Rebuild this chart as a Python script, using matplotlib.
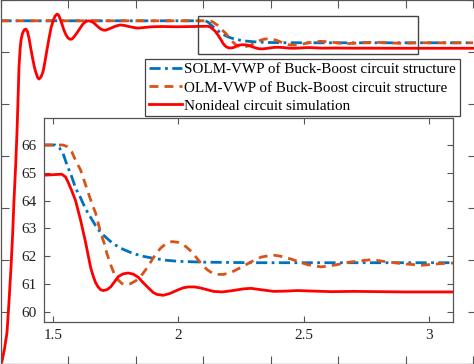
import matplotlib
matplotlib.use("Agg")
import matplotlib.pyplot as plt
from matplotlib.patches import Rectangle

plt.rcParams["font.family"] = ["Liberation Serif", "DejaVu Serif"]

# values (time, voltage)
solm_t = [0, 1.50, 1.51, 1.525, 1.54, 1.555, 1.575, 1.59, 1.61, 1.63, 1.65, 1.67,
          1.69, 1.715, 1.74, 1.78, 1.82, 1.86, 1.90, 1.95, 2.00, 2.10, 2.30, 3.50]
solm_v = [66, 66, 66.0, 65.9, 65.7, 65.3, 64.85, 64.45, 64.1, 63.7, 63.4, 63.1,
          62.85, 62.65, 62.45, 62.25, 62.1, 62.0, 61.93, 61.86, 61.82, 61.79, 61.77, 61.77]

olm_t = [0, 1.50, 1.54, 1.555, 1.575, 1.59, 1.61, 1.625, 1.64, 1.655, 1.67, 1.69,
         1.705, 1.715, 1.73, 1.745, 1.76, 1.775, 1.79, 1.81, 1.83, 1.85, 1.87, 1.89,
         1.91, 1.93, 1.95, 1.975, 2.00, 2.03, 2.055, 2.075, 2.095, 2.115, 2.135, 2.155,
         2.18, 2.21, 2.25, 2.29, 2.33, 2.375, 2.41, 2.45, 2.515, 2.57, 2.62, 2.69,
         2.77, 2.835, 2.90, 2.97, 3.05, 3.12, 3.50]
olm_v = [66, 66, 66.0, 65.95, 65.75, 65.45, 65.1, 64.7, 64.3, 63.9, 63.55, 62.85,
         62.45, 62.1, 61.7, 61.35, 61.15, 61.02, 60.98, 61.02, 61.12, 61.28, 61.52, 61.8,
         62.08, 62.3, 62.45, 62.53, 62.5, 62.35, 62.15, 61.92, 61.7, 61.52, 61.4, 61.35,
         61.35, 61.42, 61.6, 61.8, 61.97, 62.05, 62.0, 61.9, 61.7, 61.62, 61.68, 61.8,
         61.88, 61.8, 61.73, 61.68, 61.74, 61.77, 61.77]

sim_t = [0, 0.011, 0.03, 0.048, 0.063, 0.078, 0.09, 0.10, 0.112, 0.122, 0.13, 0.137,
         0.145, 0.152, 0.162, 0.17, 0.18, 0.189, 0.20, 0.211, 0.225, 0.24, 0.252, 0.263,
         0.275, 0.285, 0.30, 0.315, 0.33, 0.344, 0.36, 0.374, 0.39, 0.404, 0.419, 0.43,
         0.44, 0.455, 0.47, 0.485, 0.50, 0.515, 0.53, 0.547, 0.567, 0.59, 0.611, 0.635,
         0.656, 0.68, 0.70, 0.72, 0.744, 0.765, 0.78, 0.81, 0.85, 0.885, 0.92, 0.96,
         1.00, 1.02, 1.06, 1.12, 1.20, 1.30, 1.43, 1.535, 1.55, 1.56, 1.575, 1.59,
         1.60, 1.61, 1.62, 1.63, 1.64, 1.65, 1.66, 1.67, 1.68, 1.69, 1.70, 1.715,
         1.73, 1.745, 1.76, 1.78, 1.80, 1.82, 1.84, 1.86, 1.88, 1.90, 1.915, 1.94,
         1.965, 1.995, 2.02, 2.04, 2.065, 2.09, 2.115, 2.14, 2.175, 2.21, 2.26, 2.29,
         2.33, 2.38, 2.43, 2.475, 2.54, 2.61, 2.70, 2.80, 2.90, 3.12, 3.50]
sim_v = [0, 0.5, 3, 6, 12, 18.7, 25, 31.5, 38, 44.4, 51, 57.1,
         60.5, 62.3, 63.5, 64.0, 64.35, 64.4, 63.9, 62.7, 60.6, 58.5, 57.0, 56.0,
         55.1, 54.8, 55.2, 56.2, 58.2, 60.4, 62.7, 64.6, 66.0, 66.9, 67.3, 67.1,
         66.5, 65.4, 64.2, 63.3, 62.7, 62.45, 62.5, 63.0, 63.7, 64.6, 65.4, 65.9,
         66.0, 65.8, 65.4, 64.9, 64.4, 64.2, 64.2, 64.5, 64.95, 65.2, 65.1, 64.85,
         64.65, 64.6, 64.7, 64.85, 64.9, 64.85, 64.9, 64.95, 64.85, 64.67, 64.35, 64.0,
         63.65, 63.3, 62.9, 62.5, 62.05, 61.6, 61.3, 61.05, 60.9, 60.8, 60.77, 60.8,
         60.9, 61.08, 61.27, 61.37, 61.4, 61.36, 61.25, 61.05, 60.87, 60.7, 60.63, 60.6,
         60.66, 60.78, 60.87, 60.9, 60.9, 60.86, 60.8, 60.74, 60.72, 60.76, 60.83, 60.85,
         60.8, 60.74, 60.75, 60.77, 60.75, 60.73, 60.74, 60.73, 60.72, 60.72, 60.72]

labels = ["SOLM-VWP of Buck-Boost circuit structure",
          "OLM-VWP of Buck-Boost circuit structure",
          "Nonideal circuit simulation"]

inset_xticks = [1.5, 2, 2.5, 3]
inset_xticklabels = ["1.5", "2", "2.5", "3"]
inset_yticks = [60, 61, 62, 63, 64, 65, 66]

BLUE = "#0072BD"
ORANGE = "#D95319"
RED = "#FF0000"
GRAY = "#555555"

W, H = 474, 364


def style(ax, length):
    ax.tick_params(direction="in", length=length, width=0.8, colors=GRAY,
                   labelcolor="#222222", top=True, right=True)
    for s in ax.spines.values():
        s.set_color(GRAY)
        s.set_linewidth(0.9)


def draw(ax):
    l1, = ax.plot(solm_t, solm_v, color=BLUE, lw=2.0, dashes=(4, 1.6, 1, 1.6))
    l2, = ax.plot(olm_t, olm_v, color=ORANGE, lw=2.0, dashes=(3.2, 2.2))
    l3, = ax.plot(sim_t, sim_v, color=RED, lw=2.0)
    return [l1, l2, l3]


fig = plt.figure(figsize=(W / 100, H / 100), dpi=100)

# main axes (only partly inside the picture, its tick labels are cropped away)
ax = fig.add_axes([0.5 / W, 0, 475.2 / W, 1.0])
handles = draw(ax)
ax.set_xlim(0, 3.52)
ax.set_ylim(0, 70)
ax.set_xticks([0, 0.5, 1, 1.5, 2, 2.5, 3, 3.5])
ax.set_yticks(range(0, 71, 10))
style(ax, 6)
ax.tick_params(labelbottom=False, labelleft=False)
ax.add_patch(Rectangle((1.464, 59.64), 3.096 - 1.464, 66.97 - 59.64,
                       fill=False, edgecolor="#444444", lw=1.0, zorder=5))

# zoomed inset
axin = fig.add_axes([44 / W, (H - 322) / H, (453 - 44) / W, (322 - 118) / H])
draw(axin)
axin.set_xlim(1.464, 3.096)
axin.set_ylim(59.64, 66.97)
axin.set_xticks(inset_xticks)
axin.set_xticklabels(inset_xticklabels)
axin.set_yticks(inset_yticks)
style(axin, 4)
axin.tick_params(labelsize=11, pad=5)

leg = fig.legend(handles, labels, loc="upper right",
                 bbox_to_anchor=(460 / W, 1 - 59 / H), borderaxespad=0,
                 fontsize=10.9, fancybox=False, framealpha=1, edgecolor="#444444",
                 handlelength=2.2, handletextpad=0.15, borderpad=0.25,
                 labelspacing=0.3)
leg.get_frame().set_linewidth(0.9)

fig.savefig("out.png", dpi=100)
